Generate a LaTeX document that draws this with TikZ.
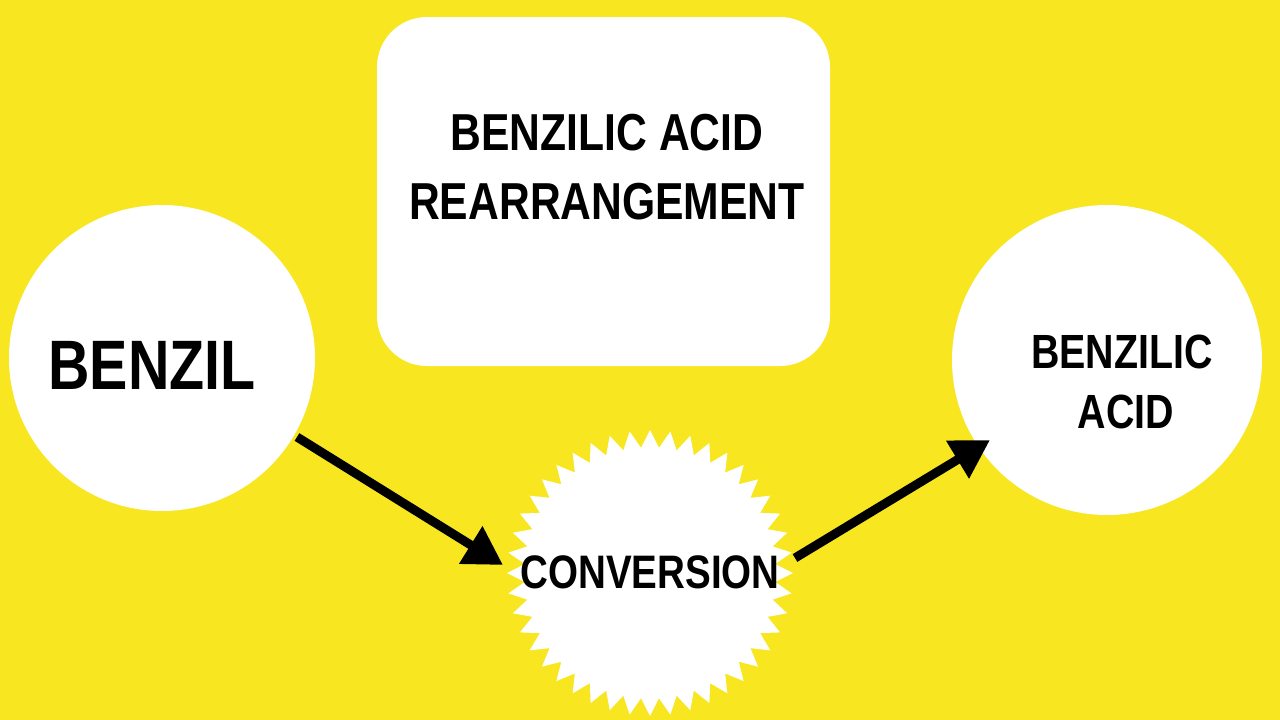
\documentclass[tikz,border=0pt]{standalone}
\usepackage{fontspec}
\setmainfont{Liberation Sans}[FakeStretch=0.82]
\usetikzlibrary{shapes.geometric,arrows.meta}
\definecolor{bg}{HTML}{F7E620}
\tikzset{lbl/.style={font=\bfseries, text=black, align=center},
 arr/.style={line width=9pt, -{Triangle[length=38pt,width=42pt]}}}
\begin{document}
\begin{tikzpicture}[x=1pt,y=-1pt]
\useasboundingbox (0,0) rectangle (1280,720);
\fill[bg] (0,0) rectangle (1280,720);
\fill[white,rounded corners=50pt] (377,17) rectangle (830,366);
\node[lbl, font=\bfseries\fontsize{52}{69}\selectfont] (title) at (607,167) {BENZILIC ACID\\REARRANGEMENT};
\node[circle, fill=white, minimum size=306pt, inner sep=0] (benzil) at (162,358) {};
\node[lbl, font=\bfseries\fontsize{70}{80}\selectfont] at (152,365) {BENZIL};
\node[circle, fill=white, minimum size=310pt, inner sep=0] (acid) at (1107,360) {};
\node[lbl, font=\bfseries\fontsize{48}{60}\selectfont] at (1122,382) {BENZILIC\\\hspace*{8pt}ACID};
\node[star, star points=44, star point ratio=1.14, fill=white, minimum size=286pt, inner sep=0] (conv) at (650,573) {};
\node[lbl, font=\bfseries\fontsize{47}{58}\selectfont] at (650,572) {CONVERSION};
\coordinate (a1) at (297,437); \coordinate (a2) at (503,565);
\coordinate (b1) at (795,558); \coordinate (b2) at (990,440);
\draw[arr] (a1) -- (a2);
\draw[arr] (b1) -- (b2);
\end{tikzpicture}
\end{document}
